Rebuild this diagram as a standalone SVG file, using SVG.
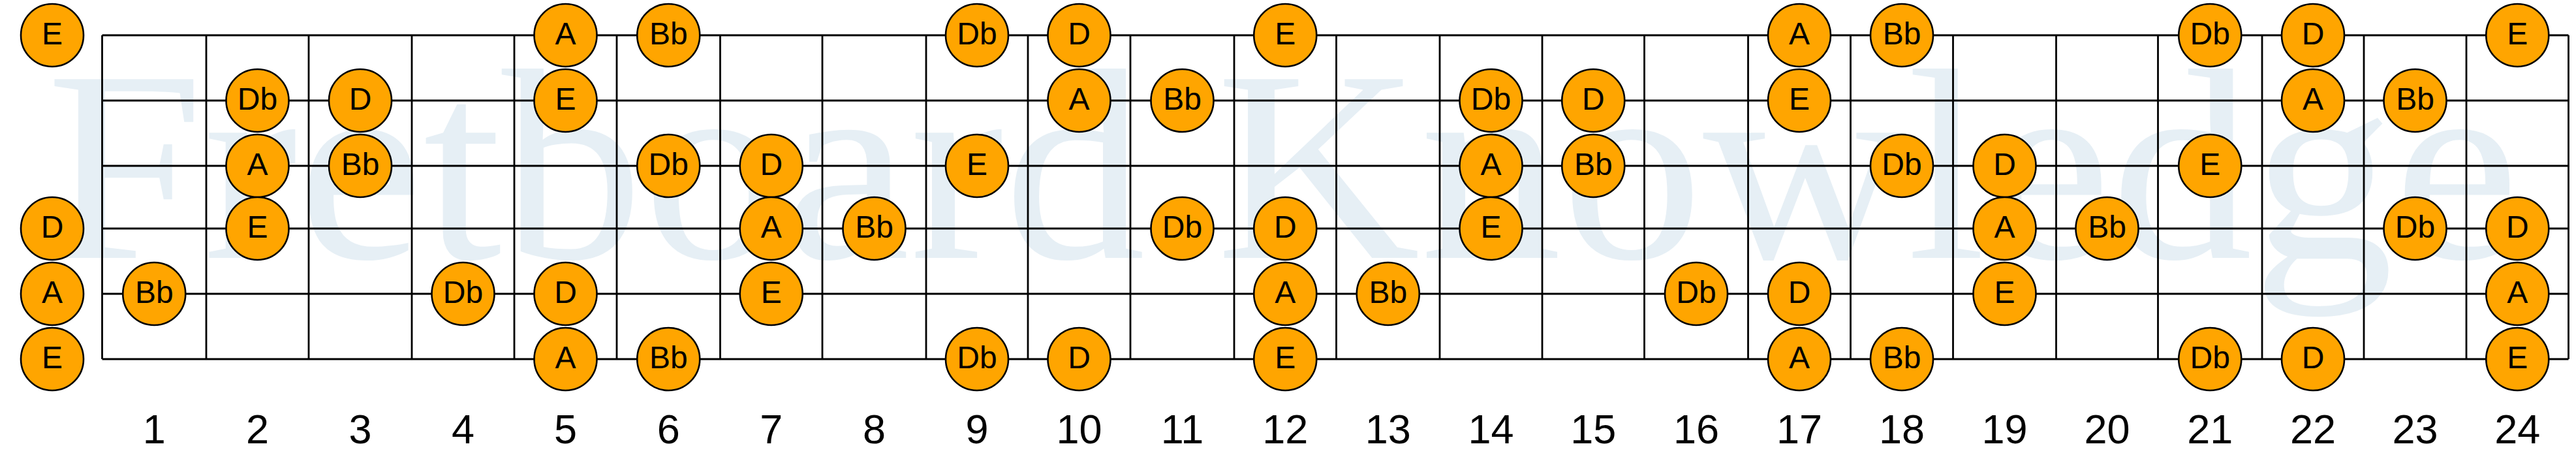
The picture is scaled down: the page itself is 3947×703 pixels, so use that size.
<svg xmlns="http://www.w3.org/2000/svg" width="3947" height="703" viewBox="0 0 3947 703">
<style>
.wm{font-family:"Liberation Serif","Times New Roman",serif;font-size:418px;fill:#E6EFF5}
.ln{stroke:#000;stroke-width:2.8;fill:none}
.nc{fill:#FFA500;stroke:#000;stroke-width:2.6}
.nt{font-family:"Liberation Sans",Arial,sans-serif;font-size:48px;fill:#000;text-anchor:middle}
.fn{font-family:"Liberation Sans",Arial,sans-serif;font-size:63px;fill:#000;text-anchor:middle}
</style>
<rect width="3947" height="703" fill="#fff"/>
<text class="wm" x="71" y="395" textLength="3789" lengthAdjust="spacingAndGlyphs">Fretboard Knowledge</text>
<g id="connectors">
<g class="ln">
<line x1="156.5" y1="54" x2="3935.5" y2="54"/>
<line x1="156.5" y1="154" x2="3935.5" y2="154"/>
<line x1="156.5" y1="254" x2="3935.5" y2="254"/>
<line x1="156.5" y1="350" x2="3935.5" y2="350"/>
<line x1="156.5" y1="450" x2="3935.5" y2="450"/>
<line x1="156.5" y1="550" x2="3935.5" y2="550"/>
<line x1="156.5" y1="54" x2="156.5" y2="550"/>
<line x1="316" y1="54" x2="316" y2="550"/>
<line x1="473" y1="54" x2="473" y2="550"/>
<line x1="631" y1="54" x2="631" y2="550"/>
<line x1="788" y1="54" x2="788" y2="550"/>
<line x1="945" y1="54" x2="945" y2="550"/>
<line x1="1103.5" y1="54" x2="1103.5" y2="550"/>
<line x1="1260" y1="54" x2="1260" y2="550"/>
<line x1="1419" y1="54" x2="1419" y2="550"/>
<line x1="1575" y1="54" x2="1575" y2="550"/>
<line x1="1732" y1="54" x2="1732" y2="550"/>
<line x1="1891" y1="54" x2="1891" y2="550"/>
<line x1="2047.5" y1="54" x2="2047.5" y2="550"/>
<line x1="2206" y1="54" x2="2206" y2="550"/>
<line x1="2363" y1="54" x2="2363" y2="550"/>
<line x1="2519.5" y1="54" x2="2519.5" y2="550"/>
<line x1="2678.5" y1="54" x2="2678.5" y2="550"/>
<line x1="2835.5" y1="54" x2="2835.5" y2="550"/>
<line x1="2992.5" y1="54" x2="2992.5" y2="550"/>
<line x1="3150.5" y1="54" x2="3150.5" y2="550"/>
<line x1="3306.5" y1="54" x2="3306.5" y2="550"/>
<line x1="3466" y1="54" x2="3466" y2="550"/>
<line x1="3622" y1="54" x2="3622" y2="550"/>
<line x1="3779" y1="54" x2="3779" y2="550"/>
<line x1="3935.5" y1="54" x2="3935.5" y2="550"/>
</g>
</g>
<g id="fret-numbers">
<text class="fn" x="236.25" y="679">1</text>
<text class="fn" x="394.5" y="679">2</text>
<text class="fn" x="552" y="679">3</text>
<text class="fn" x="709.5" y="679">4</text>
<text class="fn" x="866.5" y="679">5</text>
<text class="fn" x="1024.25" y="679">6</text>
<text class="fn" x="1181.75" y="679">7</text>
<text class="fn" x="1339.5" y="679">8</text>
<text class="fn" x="1497" y="679">9</text>
<text class="fn" x="1653.5" y="679">10</text>
<text class="fn" x="1811.5" y="679">11</text>
<text class="fn" x="1969.25" y="679">12</text>
<text class="fn" x="2126.75" y="679">13</text>
<text class="fn" x="2284.5" y="679">14</text>
<text class="fn" x="2441.25" y="679">15</text>
<text class="fn" x="2599" y="679">16</text>
<text class="fn" x="2757" y="679">17</text>
<text class="fn" x="2914" y="679">18</text>
<text class="fn" x="3071.5" y="679">19</text>
<text class="fn" x="3228.5" y="679">20</text>
<text class="fn" x="3386.25" y="679">21</text>
<text class="fn" x="3544" y="679">22</text>
<text class="fn" x="3700.5" y="679">23</text>
<text class="fn" x="3857.25" y="679">24</text>
</g>
<g id="notes">
<!-- string 1 y=54 -->
<g id="s1f0"><circle class="nc" cx="80" cy="54" r="48"/><text class="nt" x="80" y="67.5">E</text></g>
<g id="s1f5"><circle class="nc" cx="866.5" cy="54" r="48"/><text class="nt" x="866.5" y="67.5">A</text></g>
<g id="s1f6"><circle class="nc" cx="1024.25" cy="54" r="48"/><text class="nt" x="1024.25" y="67.5">Bb</text></g>
<g id="s1f9"><circle class="nc" cx="1497" cy="54" r="48"/><text class="nt" x="1497" y="67.5">Db</text></g>
<g id="s1f10"><circle class="nc" cx="1653.5" cy="54" r="48"/><text class="nt" x="1653.5" y="67.5">D</text></g>
<g id="s1f12"><circle class="nc" cx="1969.25" cy="54" r="48"/><text class="nt" x="1969.25" y="67.5">E</text></g>
<g id="s1f17"><circle class="nc" cx="2757" cy="54" r="48"/><text class="nt" x="2757" y="67.5">A</text></g>
<g id="s1f18"><circle class="nc" cx="2914" cy="54" r="48"/><text class="nt" x="2914" y="67.5">Bb</text></g>
<g id="s1f21"><circle class="nc" cx="3386.25" cy="54" r="48"/><text class="nt" x="3386.25" y="67.5">Db</text></g>
<g id="s1f22"><circle class="nc" cx="3544" cy="54" r="48"/><text class="nt" x="3544" y="67.5">D</text></g>
<g id="s1f24"><circle class="nc" cx="3857.25" cy="54" r="48"/><text class="nt" x="3857.25" y="67.5">E</text></g>
<!-- string 2 y=154 -->
<g id="s2f2"><circle class="nc" cx="394.5" cy="154" r="48"/><text class="nt" x="394.5" y="167.5">Db</text></g>
<g id="s2f3"><circle class="nc" cx="552" cy="154" r="48"/><text class="nt" x="552" y="167.5">D</text></g>
<g id="s2f5"><circle class="nc" cx="866.5" cy="154" r="48"/><text class="nt" x="866.5" y="167.5">E</text></g>
<g id="s2f10"><circle class="nc" cx="1653.5" cy="154" r="48"/><text class="nt" x="1653.5" y="167.5">A</text></g>
<g id="s2f11"><circle class="nc" cx="1811.5" cy="154" r="48"/><text class="nt" x="1811.5" y="167.5">Bb</text></g>
<g id="s2f14"><circle class="nc" cx="2284.5" cy="154" r="48"/><text class="nt" x="2284.5" y="167.5">Db</text></g>
<g id="s2f15"><circle class="nc" cx="2441.25" cy="154" r="48"/><text class="nt" x="2441.25" y="167.5">D</text></g>
<g id="s2f17"><circle class="nc" cx="2757" cy="154" r="48"/><text class="nt" x="2757" y="167.5">E</text></g>
<g id="s2f22"><circle class="nc" cx="3544" cy="154" r="48"/><text class="nt" x="3544" y="167.5">A</text></g>
<g id="s2f23"><circle class="nc" cx="3700.5" cy="154" r="48"/><text class="nt" x="3700.5" y="167.5">Bb</text></g>
<!-- string 3 y=254 -->
<g id="s3f2"><circle class="nc" cx="394.5" cy="254" r="48"/><text class="nt" x="394.5" y="267.5">A</text></g>
<g id="s3f3"><circle class="nc" cx="552" cy="254" r="48"/><text class="nt" x="552" y="267.5">Bb</text></g>
<g id="s3f6"><circle class="nc" cx="1024.25" cy="254" r="48"/><text class="nt" x="1024.25" y="267.5">Db</text></g>
<g id="s3f7"><circle class="nc" cx="1181.75" cy="254" r="48"/><text class="nt" x="1181.75" y="267.5">D</text></g>
<g id="s3f9"><circle class="nc" cx="1497" cy="254" r="48"/><text class="nt" x="1497" y="267.5">E</text></g>
<g id="s3f14"><circle class="nc" cx="2284.5" cy="254" r="48"/><text class="nt" x="2284.5" y="267.5">A</text></g>
<g id="s3f15"><circle class="nc" cx="2441.25" cy="254" r="48"/><text class="nt" x="2441.25" y="267.5">Bb</text></g>
<g id="s3f18"><circle class="nc" cx="2914" cy="254" r="48"/><text class="nt" x="2914" y="267.5">Db</text></g>
<g id="s3f19"><circle class="nc" cx="3071.5" cy="254" r="48"/><text class="nt" x="3071.5" y="267.5">D</text></g>
<g id="s3f21"><circle class="nc" cx="3386.25" cy="254" r="48"/><text class="nt" x="3386.25" y="267.5">E</text></g>
<!-- string 4 y=350 -->
<g id="s4f0"><circle class="nc" cx="80" cy="350" r="48"/><text class="nt" x="80" y="363.5">D</text></g>
<g id="s4f2"><circle class="nc" cx="394.5" cy="350" r="48"/><text class="nt" x="394.5" y="363.5">E</text></g>
<g id="s4f7"><circle class="nc" cx="1181.75" cy="350" r="48"/><text class="nt" x="1181.75" y="363.5">A</text></g>
<g id="s4f8"><circle class="nc" cx="1339.5" cy="350" r="48"/><text class="nt" x="1339.5" y="363.5">Bb</text></g>
<g id="s4f11"><circle class="nc" cx="1811.5" cy="350" r="48"/><text class="nt" x="1811.5" y="363.5">Db</text></g>
<g id="s4f12"><circle class="nc" cx="1969.25" cy="350" r="48"/><text class="nt" x="1969.25" y="363.5">D</text></g>
<g id="s4f14"><circle class="nc" cx="2284.5" cy="350" r="48"/><text class="nt" x="2284.5" y="363.5">E</text></g>
<g id="s4f19"><circle class="nc" cx="3071.5" cy="350" r="48"/><text class="nt" x="3071.5" y="363.5">A</text></g>
<g id="s4f20"><circle class="nc" cx="3228.5" cy="350" r="48"/><text class="nt" x="3228.5" y="363.5">Bb</text></g>
<g id="s4f23"><circle class="nc" cx="3700.5" cy="350" r="48"/><text class="nt" x="3700.5" y="363.5">Db</text></g>
<g id="s4f24"><circle class="nc" cx="3857.25" cy="350" r="48"/><text class="nt" x="3857.25" y="363.5">D</text></g>
<!-- string 5 y=450 -->
<g id="s5f0"><circle class="nc" cx="80" cy="450" r="48"/><text class="nt" x="80" y="463.5">A</text></g>
<g id="s5f1"><circle class="nc" cx="236.25" cy="450" r="48"/><text class="nt" x="236.25" y="463.5">Bb</text></g>
<g id="s5f4"><circle class="nc" cx="709.5" cy="450" r="48"/><text class="nt" x="709.5" y="463.5">Db</text></g>
<g id="s5f5"><circle class="nc" cx="866.5" cy="450" r="48"/><text class="nt" x="866.5" y="463.5">D</text></g>
<g id="s5f7"><circle class="nc" cx="1181.75" cy="450" r="48"/><text class="nt" x="1181.75" y="463.5">E</text></g>
<g id="s5f12"><circle class="nc" cx="1969.25" cy="450" r="48"/><text class="nt" x="1969.25" y="463.5">A</text></g>
<g id="s5f13"><circle class="nc" cx="2126.75" cy="450" r="48"/><text class="nt" x="2126.75" y="463.5">Bb</text></g>
<g id="s5f16"><circle class="nc" cx="2599" cy="450" r="48"/><text class="nt" x="2599" y="463.5">Db</text></g>
<g id="s5f17"><circle class="nc" cx="2757" cy="450" r="48"/><text class="nt" x="2757" y="463.5">D</text></g>
<g id="s5f19"><circle class="nc" cx="3071.5" cy="450" r="48"/><text class="nt" x="3071.5" y="463.5">E</text></g>
<g id="s5f24"><circle class="nc" cx="3857.25" cy="450" r="48"/><text class="nt" x="3857.25" y="463.5">A</text></g>
<!-- string 6 y=550 -->
<g id="s6f0"><circle class="nc" cx="80" cy="550" r="48"/><text class="nt" x="80" y="563.5">E</text></g>
<g id="s6f5"><circle class="nc" cx="866.5" cy="550" r="48"/><text class="nt" x="866.5" y="563.5">A</text></g>
<g id="s6f6"><circle class="nc" cx="1024.25" cy="550" r="48"/><text class="nt" x="1024.25" y="563.5">Bb</text></g>
<g id="s6f9"><circle class="nc" cx="1497" cy="550" r="48"/><text class="nt" x="1497" y="563.5">Db</text></g>
<g id="s6f10"><circle class="nc" cx="1653.5" cy="550" r="48"/><text class="nt" x="1653.5" y="563.5">D</text></g>
<g id="s6f12"><circle class="nc" cx="1969.25" cy="550" r="48"/><text class="nt" x="1969.25" y="563.5">E</text></g>
<g id="s6f17"><circle class="nc" cx="2757" cy="550" r="48"/><text class="nt" x="2757" y="563.5">A</text></g>
<g id="s6f18"><circle class="nc" cx="2914" cy="550" r="48"/><text class="nt" x="2914" y="563.5">Bb</text></g>
<g id="s6f21"><circle class="nc" cx="3386.25" cy="550" r="48"/><text class="nt" x="3386.25" y="563.5">Db</text></g>
<g id="s6f22"><circle class="nc" cx="3544" cy="550" r="48"/><text class="nt" x="3544" y="563.5">D</text></g>
<g id="s6f24"><circle class="nc" cx="3857.25" cy="550" r="48"/><text class="nt" x="3857.25" y="563.5">E</text></g>
</g>
</svg>
